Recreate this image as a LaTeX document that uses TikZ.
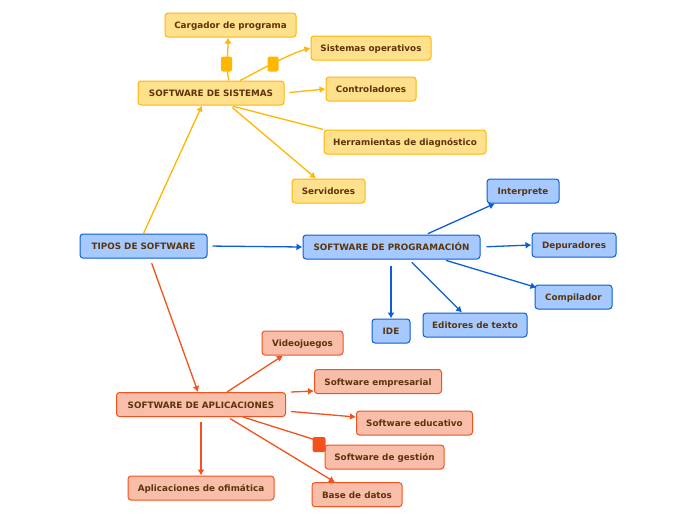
\documentclass[tikz,border=0pt]{standalone}
\usepackage{fontspec}
\setmainfont{DejaVu Sans}
\usetikzlibrary{arrows.meta}
\definecolor{ylfill}{RGB}{255,224,140}
\definecolor{ylline}{RGB}{255,183,0}
\definecolor{blfill}{RGB}{166,202,255}
\definecolor{blline}{RGB}{11,94,215}
\definecolor{rdfill}{RGB}{248,190,170}
\definecolor{rdline}{RGB}{243,82,30}
\definecolor{txt}{RGB}{92,52,10}
\begin{document}
\begin{tikzpicture}[x=1pt,y=-1pt,
  box/.style={draw, rounded corners=3pt, line width=1pt, minimum height=24pt, inner sep=0pt,
    text height=7.5pt, text depth=0.5pt,
    font=\bfseries\fontsize{8.8}{10}\selectfont, text=txt},
  ybox/.style={box, fill=ylfill, draw=ylline},
  bbox/.style={box, fill=blfill, draw=blline},
  rbox/.style={box, fill=rdfill, draw=rdline},
  con/.style={line width=1.3pt, -{Latex[length=6pt,width=7pt]}},
  ycon/.style={con, draw=ylline},
  bcon/.style={con, draw=blline},
  rcon/.style={con, draw=rdline},
  sq/.style={rounded corners=2pt, minimum width=11pt, minimum height=15pt, inner sep=0pt}
]
\useasboundingbox (0,0) rectangle (696,520);
\fill[white] (0,0) rectangle (696,520);

% yellow
\node[ybox, minimum width=131pt] (carg) at (230.5,25) {Cargador de programa};
\node[ybox, minimum width=120pt] (so) at (371,48) {Sistemas operativos};
\node[ybox, minimum width=146pt] (sis) at (211,93) {SOFTWARE DE SISTEMAS};
\node[ybox, minimum width=90pt] (ctrl) at (371,89) {Controladores};
\node[ybox, minimum width=162pt] (herr) at (405,142) {Herramientas de diagnóstico};
\node[ybox, minimum width=73pt] (serv) at (328.5,191) {Servidores};

% blue
\node[bbox, minimum width=127pt] (tipos) at (143.5,246) {TIPOS DE SOFTWARE};
\node[bbox, minimum width=177pt] (prog) at (391.5,247) {SOFTWARE DE PROGRAMACIÓN};
\node[bbox, minimum width=72pt] (interp) at (523,191) {Interprete};
\node[bbox, minimum width=84pt] (dep) at (574,245) {Depuradores};
\node[bbox, minimum width=77pt] (comp) at (573.5,297) {Compilador};
\node[bbox, minimum width=38pt] (ide) at (391,331) {IDE};
\node[bbox, minimum width=104pt] (edit) at (475,325) {Editores de texto};

% red
\node[rbox, minimum width=169pt] (apl) at (201,404.5) {SOFTWARE DE APLICACIONES};
\node[rbox, minimum width=81pt] (video) at (302.5,343) {Videojuegos};
\node[rbox, minimum width=127pt] (emp) at (378,381.5) {Software empresarial};
\node[rbox, minimum width=116pt] (edu) at (414.5,423) {Software educativo};
\node[rbox, minimum width=119pt] (gest) at (384.5,457) {Software de gestión};
\node[rbox, minimum width=146pt] (ofim) at (201,488) {Aplicaciones de ofimática};
\node[rbox, minimum width=90pt] (base) at (357,494.7) {Base de datos};

% connectors from TIPOS
\draw[ycon] (tipos.north) -- ([xshift=-9pt]sis.south);
\draw[bcon, shorten <=5pt] (tipos.east) -- (prog.west);
\draw[rcon, shorten <=5pt] ([xshift=6.5pt]tipos.south) -- ([xshift=-3pt]apl.north);

% sistemas
\draw[ycon] ([xshift=18pt]sis.north) .. controls +(-3,-8) and +(0,12) .. ([xshift=-2.5pt]carg.south);
\draw[ycon] ([xshift=29pt]sis.north) .. controls +(14,-7) and +(-22,6) .. (so.west);
\draw[ycon, shorten <=5pt] (sis.east) -- (ctrl.west);
\draw[line width=1.3pt, draw=ylline, shorten <=3pt] ([xshift=19pt]sis.south) -- (herr.north west);
\draw[ycon, shorten <=3pt] ([xshift=19pt]sis.south) -- ([xshift=-12.5pt]serv.north);
\node[sq, fill=ylline] (sq1) at (226.5,64) {};
\node[sq, fill=ylline] (sq2) at (273,64) {};

% programacion
\draw[bcon, shorten <=2pt] ([xshift=34.5pt]prog.north) -- ([xshift=-28pt]interp.south);
\draw[bcon, shorten <=6pt] (prog.east) -- (dep.west);
\draw[bcon, shorten <=3pt] ([xshift=51.5pt]prog.south) -- ([xshift=2pt,yshift=-3pt]comp.north west);
\draw[bcon, shorten <=6pt] ([xshift=-0.5pt]prog.south) -- (ide.north);
\draw[bcon, shorten <=4pt] ([xshift=17.5pt]prog.south) -- ([xshift=-13pt]edit.north);

% aplicaciones
\draw[rcon] ([xshift=26pt]apl.north) -- ([xshift=-19.5pt]video.south);
\draw[rcon] ([xshift=5pt]apl.north east) -- ([yshift=3pt]emp.south west);
\draw[rcon] ([xshift=5pt,yshift=-7pt]apl.east) -- ([yshift=6pt]edu.west);
\draw[line width=1.3pt, draw=rdline] ([xshift=42pt]apl.south) -- ([xshift=-4pt,yshift=3pt]gest.north west);
\draw[rcon, shorten <=3pt] ([xshift=26.5pt]apl.south) -- ([xshift=-22pt]base.north);
\draw[rcon, shorten <=5pt] (apl.south) -- (ofim.north);
\node[sq, fill=rdline, minimum width=13pt] (sq3) at (319,444.5) {};
\end{tikzpicture}
\end{document}
